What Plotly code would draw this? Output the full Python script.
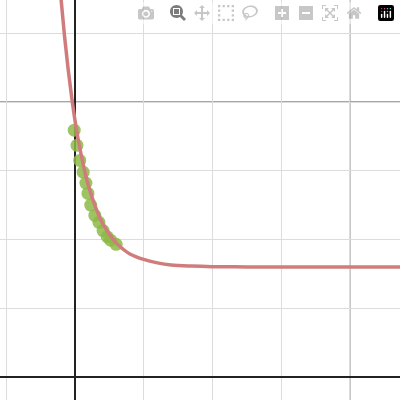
import plotly.graph_objects as go

# fitted curve, sampled
curve_x = [-0.25, -0.2, -0.15, -0.1, -0.05, 0, 0.05, 0.1, 0.15, 0.2, 0.3, 0.4, 0.5, 0.6, 0.7, 0.8, 1.0, 1.2, 1.4, 1.7, 2.0, 2.5, 3.0, 4.0, 4.8]
curve_y = [6.0, 5.48, 4.95, 4.49, 4.09, 3.74, 3.44, 3.19, 2.96, 2.77, 2.47, 2.24, 2.08, 1.95, 1.86, 1.79, 1.71, 1.66, 1.63, 1.613, 1.605, 1.601, 1.6, 1.6, 1.6]

# data points
pts_x = [-0.01, 0.03, 0.07, 0.12, 0.16, 0.19, 0.23, 0.29, 0.35, 0.41, 0.47, 0.52, 0.6]
pts_y = [3.59, 3.37, 3.15, 2.98, 2.82, 2.67, 2.50, 2.35, 2.25, 2.13, 2.04, 1.99, 1.93]

fig = go.Figure()
fig.add_trace(go.Scatter(x=pts_x, y=pts_y, mode="markers",
                         marker=dict(size=13, color="rgba(140,185,70,0.85)")))
fig.add_trace(go.Scatter(x=curve_x, y=curve_y, mode="lines", line_shape="spline",
                         line=dict(color="#d07c7c", width=3.5)))

# major grid lines
for v in [4]:
    fig.add_vline(x=v, line=dict(color="#8a8a8a", width=1.3), layer="below")
    fig.add_hline(y=v, line=dict(color="#8a8a8a", width=1.3), layer="below")

ax = dict(showticklabels=False, ticks="", dtick=1, gridcolor="#dcdcdc", gridwidth=1,
          zeroline=True, zerolinecolor="#222", zerolinewidth=1.5, showline=False)
fig.update_xaxes(range=[-1.09, 4.73], **ax)
fig.update_yaxes(range=[-0.335, 5.484], **ax)
fig.update_layout(width=400, height=400, margin=dict(l=0, r=0, t=0, b=0),
                  plot_bgcolor="white", paper_bgcolor="white", showlegend=False)
fig.write_html("out.html", post_script="document.body.style.margin='0';")
